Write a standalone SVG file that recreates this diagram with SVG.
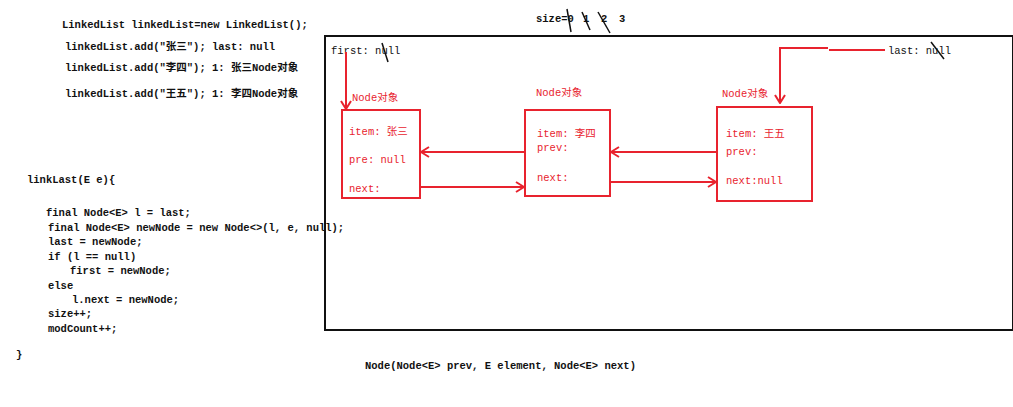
<svg xmlns="http://www.w3.org/2000/svg" width="1013" height="407" viewBox="0 0 1013 407">
<style>
.c{font-family:"Liberation Mono","Noto Sans CJK SC",monospace;font-size:10.5px;fill:#111;font-weight:bold}
.r{font-family:"Liberation Mono","Noto Sans CJK SC",monospace;font-size:10.5px;fill:#e8232e}
.n{fill:#fff;stroke:#e8232e;stroke-width:2}
.l{stroke:#e8232e;stroke-width:2;fill:none}
.k{stroke:#111;stroke-width:1.5}
</style>
<defs><marker id="a" markerWidth="10" markerHeight="12" refX="9" refY="6" orient="auto" markerUnits="userSpaceOnUse"><path d="M1,1 L9,6 L1,11" fill="none" stroke="#e8232e" stroke-width="2"/></marker></defs>
<rect width="1013" height="407" fill="#fff"/>
<g id="code">
<text class="c" x="62" y="28">LinkedList linkedList=new LinkedList();</text>
<text class="c" x="65" y="50">linkedList.add("张三"); last: null</text>
<text class="c" x="65" y="71">linkedList.add("李四"); 1: 张三Node对象</text>
<text class="c" x="65" y="97">linkedList.add("王五"); 1: 李四Node对象</text>
<text class="c" x="27" y="183">linkLast(E e){</text>
<text class="c" x="46" y="216">final Node&lt;E&gt; l = last;</text>
<text class="c" x="48" y="231">final Node&lt;E&gt; newNode = new Node&lt;&gt;(l, e, null);</text>
<text class="c" x="48" y="245">last = newNode;</text>
<text class="c" x="48" y="260">if (l == null)</text>
<text class="c" x="70" y="274">first = newNode;</text>
<text class="c" x="48" y="289">else</text>
<text class="c" x="72" y="303">l.next = newNode;</text>
<text class="c" x="48" y="317">size++;</text>
<text class="c" x="48" y="332">modCount++;</text>
<text class="c" x="16" y="358">}</text>
<text class="c" x="365" y="369">Node(Node&lt;E&gt; prev, E element, Node&lt;E&gt; next)</text>
<text class="c" x="536" y="22">size=0</text><text class="c" x="583" y="22">1</text><text class="c" x="601" y="22">2</text><text class="c" x="619" y="22">3</text>
</g>
<g id="frame"><rect x="325" y="36" width="688" height="294" fill="none" stroke="#111" stroke-width="2"/>
<text class="c" x="331" y="54" style="font-weight:normal">first: null</text>
<text class="c" x="888" y="54" style="font-weight:normal">last: null</text>
<line class="k" x1="567" y1="9" x2="571" y2="32"/><line class="k" x1="582" y1="12" x2="590" y2="30"/><line class="k" x1="598" y1="12" x2="610" y2="33"/>
<line class="k" x1="382" y1="43" x2="388" y2="62"/><line class="k" x1="931" y1="42" x2="944" y2="59"/>
</g>
<g id="node1"><rect class="n" x="342" y="110" width="78" height="88"/><text class="r" x="352" y="101">Node对象</text><text class="r" x="349" y="135">item: 张三</text><text class="r" x="349" y="163">pre: null</text><text class="r" x="349" y="192">next:</text></g>
<g id="node2"><rect class="n" x="525" y="110" width="85" height="86"/><text class="r" x="536" y="96">Node对象</text><text class="r" x="537" y="137">item: 李四</text><text class="r" x="537" y="151">prev:</text><text class="r" x="537" y="181">next:</text></g>
<g id="node3"><rect class="n" x="717" y="107" width="95" height="94"/><text class="r" x="722" y="97">Node对象</text><text class="r" x="726" y="137">item: 王五</text><text class="r" x="726" y="155">prev:</text><text class="r" x="726" y="184">next:null</text></g>
<g id="connectors">
<path class="l" d="M346,52 V109" marker-end="url(#a)"/>
<path class="l" d="M885,50 H829 M828,48 H780 V103" marker-end="url(#a)"/>
<path class="l" d="M525,152 H421" marker-end="url(#a)"/>
<path class="l" d="M717,152 H611" marker-end="url(#a)"/>
<path class="l" d="M420,187 H524" marker-end="url(#a)"/>
<path class="l" d="M610,182 H716" marker-end="url(#a)"/>
</g>
</svg>
